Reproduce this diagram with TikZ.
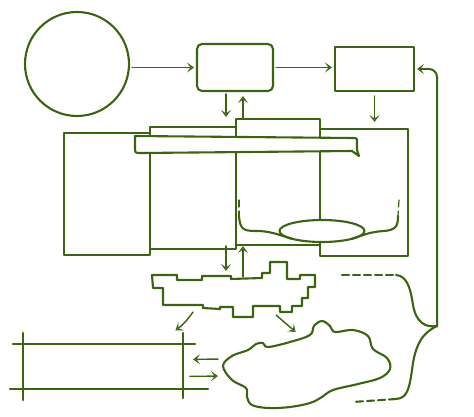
\documentclass[tikz,border=0pt]{standalone}
\usepackage{tikz}
\usetikzlibrary{positioning}
\usetikzlibrary{arrows.meta}
\usetikzlibrary{shapes.geometric}
\usepackage{xcolor}
\definecolor{sketch}{RGB}{58,100,16}

\begin{document}
\begin{tikzpicture}[x=1pt, y=-1pt, line join=round, line cap=round,
  every path/.style={draw=sketch, line width=2.1pt},
  box/.style={draw, inner sep=0pt, outer sep=0pt},
  arr/.style={line width=1.4pt, -{Stealth[open, length=7pt, width=10pt, inset=3.5pt, line width=1.4pt]}, shorten <=3pt, shorten >=3pt},
  gap/.style={dash pattern=on 7pt off 4pt}]
\useasboundingbox[draw=none] (0,0) rectangle (474,417);

\node[box, circle, minimum size=104pt] (start) at (77,64) {};
\node[box, rounded corners=5pt, minimum width=76pt, minimum height=47pt] (boxa) at (235,67.5) {};
\node[box, minimum width=79pt, minimum height=44pt] (boxb) at (374.5,69) {};

\node[box, minimum width=86pt, minimum height=122pt] (colA) at (107,194) {};
\node[box, minimum width=86pt, minimum height=122pt] (colB) at (193,188) {};
\node[box, minimum width=84pt, minimum height=126pt] (colC) at (278,182) {};
\node[box, minimum width=88pt, minimum height=127pt] (colD) at (364,192.5) {};

\draw[fill=white] (135,136) -- (352,138) .. controls (357,138) .. (357,142)
  -- (357,150) -- (359,156) -- (352,151) -- (141,153)
  .. controls (135,153) .. (135,148) -- cycle;

\draw[gap, line width=1.2pt] (239,200) -- (239,216);
\draw[gap, line width=1.2pt] (399,200) -- (398,216);
\node[box, ellipse, fill=white, minimum width=85pt, minimum height=22pt] (tank) at (322,231) {};
\draw (239,216) .. controls (240,229) and (243,231) .. (256,231)
  .. controls (270,231) and (276,234) .. (tank.195);
\draw (tank.345) .. controls (372,232) .. (384,231)
  .. controls (396,230) and (398,226) .. (398,216);

\draw[fill=white] (152,275) -- (177,275) -- (177,280) -- (202,280) -- (202,276)
  -- (231,276) -- (231,279) -- (262,278) -- (262,273) -- (270,273) -- (270,262)
  -- (287,262) -- (287,279) -- (300,279) -- (300,275) -- (315,275) -- (315,287)
  -- (308,287) -- (308,298) -- (302,298) -- (302,306) -- (292,306) -- (292,312)
  -- (280,312) -- (280,306) -- (253,306) -- (253,317) -- (233,317) -- (233,307)
  -- (220,307) -- (220,309) -- (203,308) -- (203,305) -- (163,305) -- (163,288)
  -- (153,288) -- cycle;
\coordinate (zzl) at (193,312);
\coordinate (zzr) at (276,315);
\coordinate (zzt) at (243,278);

\node[inner sep=0pt, outer sep=0pt, minimum width=160pt, minimum height=45pt] (store) at (103,366.5) {};
\draw ([xshift=-10pt]store.north west) -- ([xshift=12pt]store.north east);
\draw ([xshift=-13pt]store.south west) -- ([xshift=25pt]store.south east);
\draw ([yshift=11pt]store.north west) -- ([yshift=-11pt]store.south west);
\draw ([yshift=11pt]store.north east) -- ([yshift=-9pt]store.south east);

\draw plot[smooth cycle, tension=0.6] coordinates {(223,366) (232,356) (248,350)
  (256,344) (263,343) (268,347) (290,342) (310,335) (314,326) (322,321) (330,326)
  (335,332) (353,330) (368,336) (373,349) (387,358) (390,369) (380,378) (358,384)
  (333,390) (322,397) (310,403) (290,407) (268,408) (252,405) (247,397) (246,388)
  (232,380)};
\coordinate (poolw) at (223,366);
\coordinate (poolnw) at (298,334);

\coordinate (join) at (437,326);
\draw[gap] (342,275) -- (396,275);
\draw (396,275) .. controls (406,276) and (410,285) .. (413,305)
  .. controls (416,322) and (425,328) .. (join);
\draw (join) .. controls (422,333) and (415,345) .. (412,370)
  .. controls (409,392) and (406,398) .. (396,399);
\draw[gap] (396,399) -- (353,402);

\draw[arr] (start.east |- boxa.west) -- (boxa.west);
\draw[arr] (boxa.east) -- (boxb.west |- boxa.east);
\draw[arr, shorten >=10pt] ([xshift=-9pt]boxa.south) -- ([xshift=-9pt]boxa.south |- colB.north);
\draw[arr, shorten <=1pt, shorten >=5pt] ([xshift=8pt]boxa.south |- colC.north) -- ([xshift=8pt]boxa.south);
\draw[arr, shorten <=5pt, shorten >=7pt] (boxb.south) -- (boxb.south |- colD.north);
\draw[arr, line width=2pt, rounded corners=8pt, shorten <=0pt] (join) |- (boxb.east);

\draw[arr, shorten <=1pt, shorten >=7pt] ([xshift=-10pt]colC.south west) -- ([xshift=-10pt]colC.south west |- zzt);
\draw[arr, shorten <=1pt, shorten >=1pt] (zzt) -- (zzt |- colC.south);
\draw[arr, shorten <=0pt] (zzl) to[bend left=10] ([shift={(-10pt,12pt)}]store.north east);
\draw[arr, shorten <=0pt] (zzr) -- (poolnw);
\draw[arr, shorten <=5pt, shorten >=10pt] ([yshift=7pt]poolw) -- ([yshift=7pt]store.east);
\draw[arr, shorten <=7pt, shorten >=5pt] ([yshift=-10pt]store.east) -- ([yshift=-10pt]poolw);
\end{tikzpicture}
\end{document}
